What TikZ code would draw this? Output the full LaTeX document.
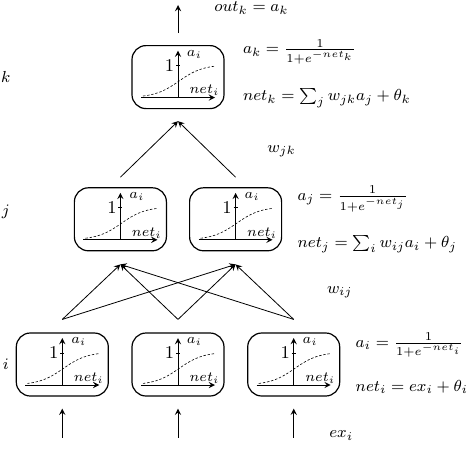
\documentclass[tikz,border=0pt]{standalone}
\usepackage{amsmath}
\usepackage{tikz}
\usetikzlibrary{calc}
\usetikzlibrary{arrows}
\usetikzlibrary{positioning}
\tikzset{
    unit/.style={
           rectangle,
           rounded corners=7pt,
           draw=black, semithick,
           minimum width=46pt,
           minimum height=31.5pt,
           inner sep=0pt,
           },
    sig/.style={dash pattern=on 1.2pt off 0.9pt, line width=0.3pt},
    formula/.style={anchor=west, inner sep=0pt},
}

\begin{document}
\begin{tikzpicture}[>=stealth, thin, font=\fontsize{8.5pt}{10pt}\selectfont]
      \useasboundingbox (-89pt,182.25pt) rectangle (148pt,-43.25pt);
      % units
      \node[unit] (i2) at (0,0) {};
      \node[unit] (i1) [left=11.25pt of i2] {};
      \node[unit] (i3) [right=11.25pt of i2] {};
      \node[unit] (j1) [above left=40.5pt and 5.5pt of i2.north] {};
      \node[unit] (j2) [above right=40.5pt and 5.5pt of i2.north] {};
      \coordinate (jmid) at ($(j1.north)!0.5!(j2.north)$);
      \node[unit] (k) [above=39pt of jmid] {};
      % sigmoid inside each unit
      \foreach \n in {i1,i2,i3,j1,j2,k} {
        \begin{scope}[shift={(\n.center)}]
          \draw[->] (-18.5pt,-10.25pt) -- (18.5pt,-10.25pt);
          \draw[->] (0pt,-10.25pt) -- (0pt,13.25pt);
          \draw (-1pt,5.75pt) -- (1pt,5.75pt);
          \draw[sig] plot[domain=-17.5:18,samples=40]
                ({\x*1pt},{(-10.25+16.5/(1+exp(-(\x-0.5)/6)))*1pt});
          \node[font=\small, inner sep=0pt] at (-4.25pt,5.75pt) {$1$};
          \node[font=\scriptsize, inner sep=0pt] at (8.25pt,11.4pt) {$a_i$};
          \node[font=\scriptsize, inner sep=0pt] at (13.25pt,-6.75pt) {$net_i$};
        \end{scope}
      }
      % connector ends
      \foreach \n in {i1,i2,i3} {
        \coordinate (\n-top) at ([yshift=6.5pt]\n.north);
        \coordinate (\n-ex) at ([yshift=-20.5pt]\n.south);
      }
      \foreach \n in {j1,j2} {
        \coordinate (\n-bot) at ([yshift=-6.5pt]\n.south);
        \coordinate (\n-top) at ([yshift=5pt]\n.north);
      }
      \coordinate (k-bot) at ([yshift=-6pt]k.south);
      \coordinate (k-out) at ([yshift=20pt]k.north);
      % connections
      \foreach \a in {i1,i2,i3}
        \foreach \b in {j1,j2}
          \draw[->] (\a-top) -- (\b-bot);
      \draw[->] (j1-top) -- (k-bot);
      \draw[->] (j2-top) -- (k-bot);
      \draw[->, shorten <=6pt] (k) -- (k-out);
      \foreach \n in {i1,i2,i3}
        \draw[->, shorten >=6pt] (\n-ex) -- (\n);
      % labels
      \node[formula] (out) at ([xshift=18pt,yshift=-1.5pt]k-out) {$out_k = a_k$};
      \node[formula] (ak) at ([xshift=9pt,yshift=12.75pt]k.east) {$a_k = \frac{1}{1+e^{-net_k}}$};
      \node[formula] (netk) at ([xshift=9pt,yshift=-10.75pt]k.east) {$net_k = \sum_j w_{jk} a_j + \theta_k$};
      \node[formula] (aj) at ([xshift=7.5pt,yshift=10pt]j2.east) {$a_j = \frac{1}{1+e^{-net_j}}$};
      \node[formula] (netj) at ([xshift=7.5pt,yshift=-12.5pt]j2.east) {$net_j = \sum_i w_{ij} a_i + \theta_j$};
      \node[formula] (ai) at ([xshift=7.5pt,yshift=9.75pt]i3.east) {$a_i = \frac{1}{1+e^{-net_i}}$};
      \node[formula] (neti) at ([xshift=7.5pt,yshift=-11.25pt]i3.east) {$net_i = ex_i + \theta_i$};
      \node (wjk) at ([xshift=23pt,yshift=18pt]j2.north) {$w_{jk}$};
      \node (wij) at ([xshift=23pt,yshift=20pt]i3.north) {$w_{ij}$};
      \node (exi) at ([xshift=23.75pt,yshift=-19.5pt]i3.south) {$ex_i$};
      \node (li) [left=0pt of i1] {$i$};
      \node (lj) at ($(li |- j1)+(0,4pt)$) {$j$};
      \node (lk) at (li |- k) {$k$};
\end{tikzpicture}
\end{document}
